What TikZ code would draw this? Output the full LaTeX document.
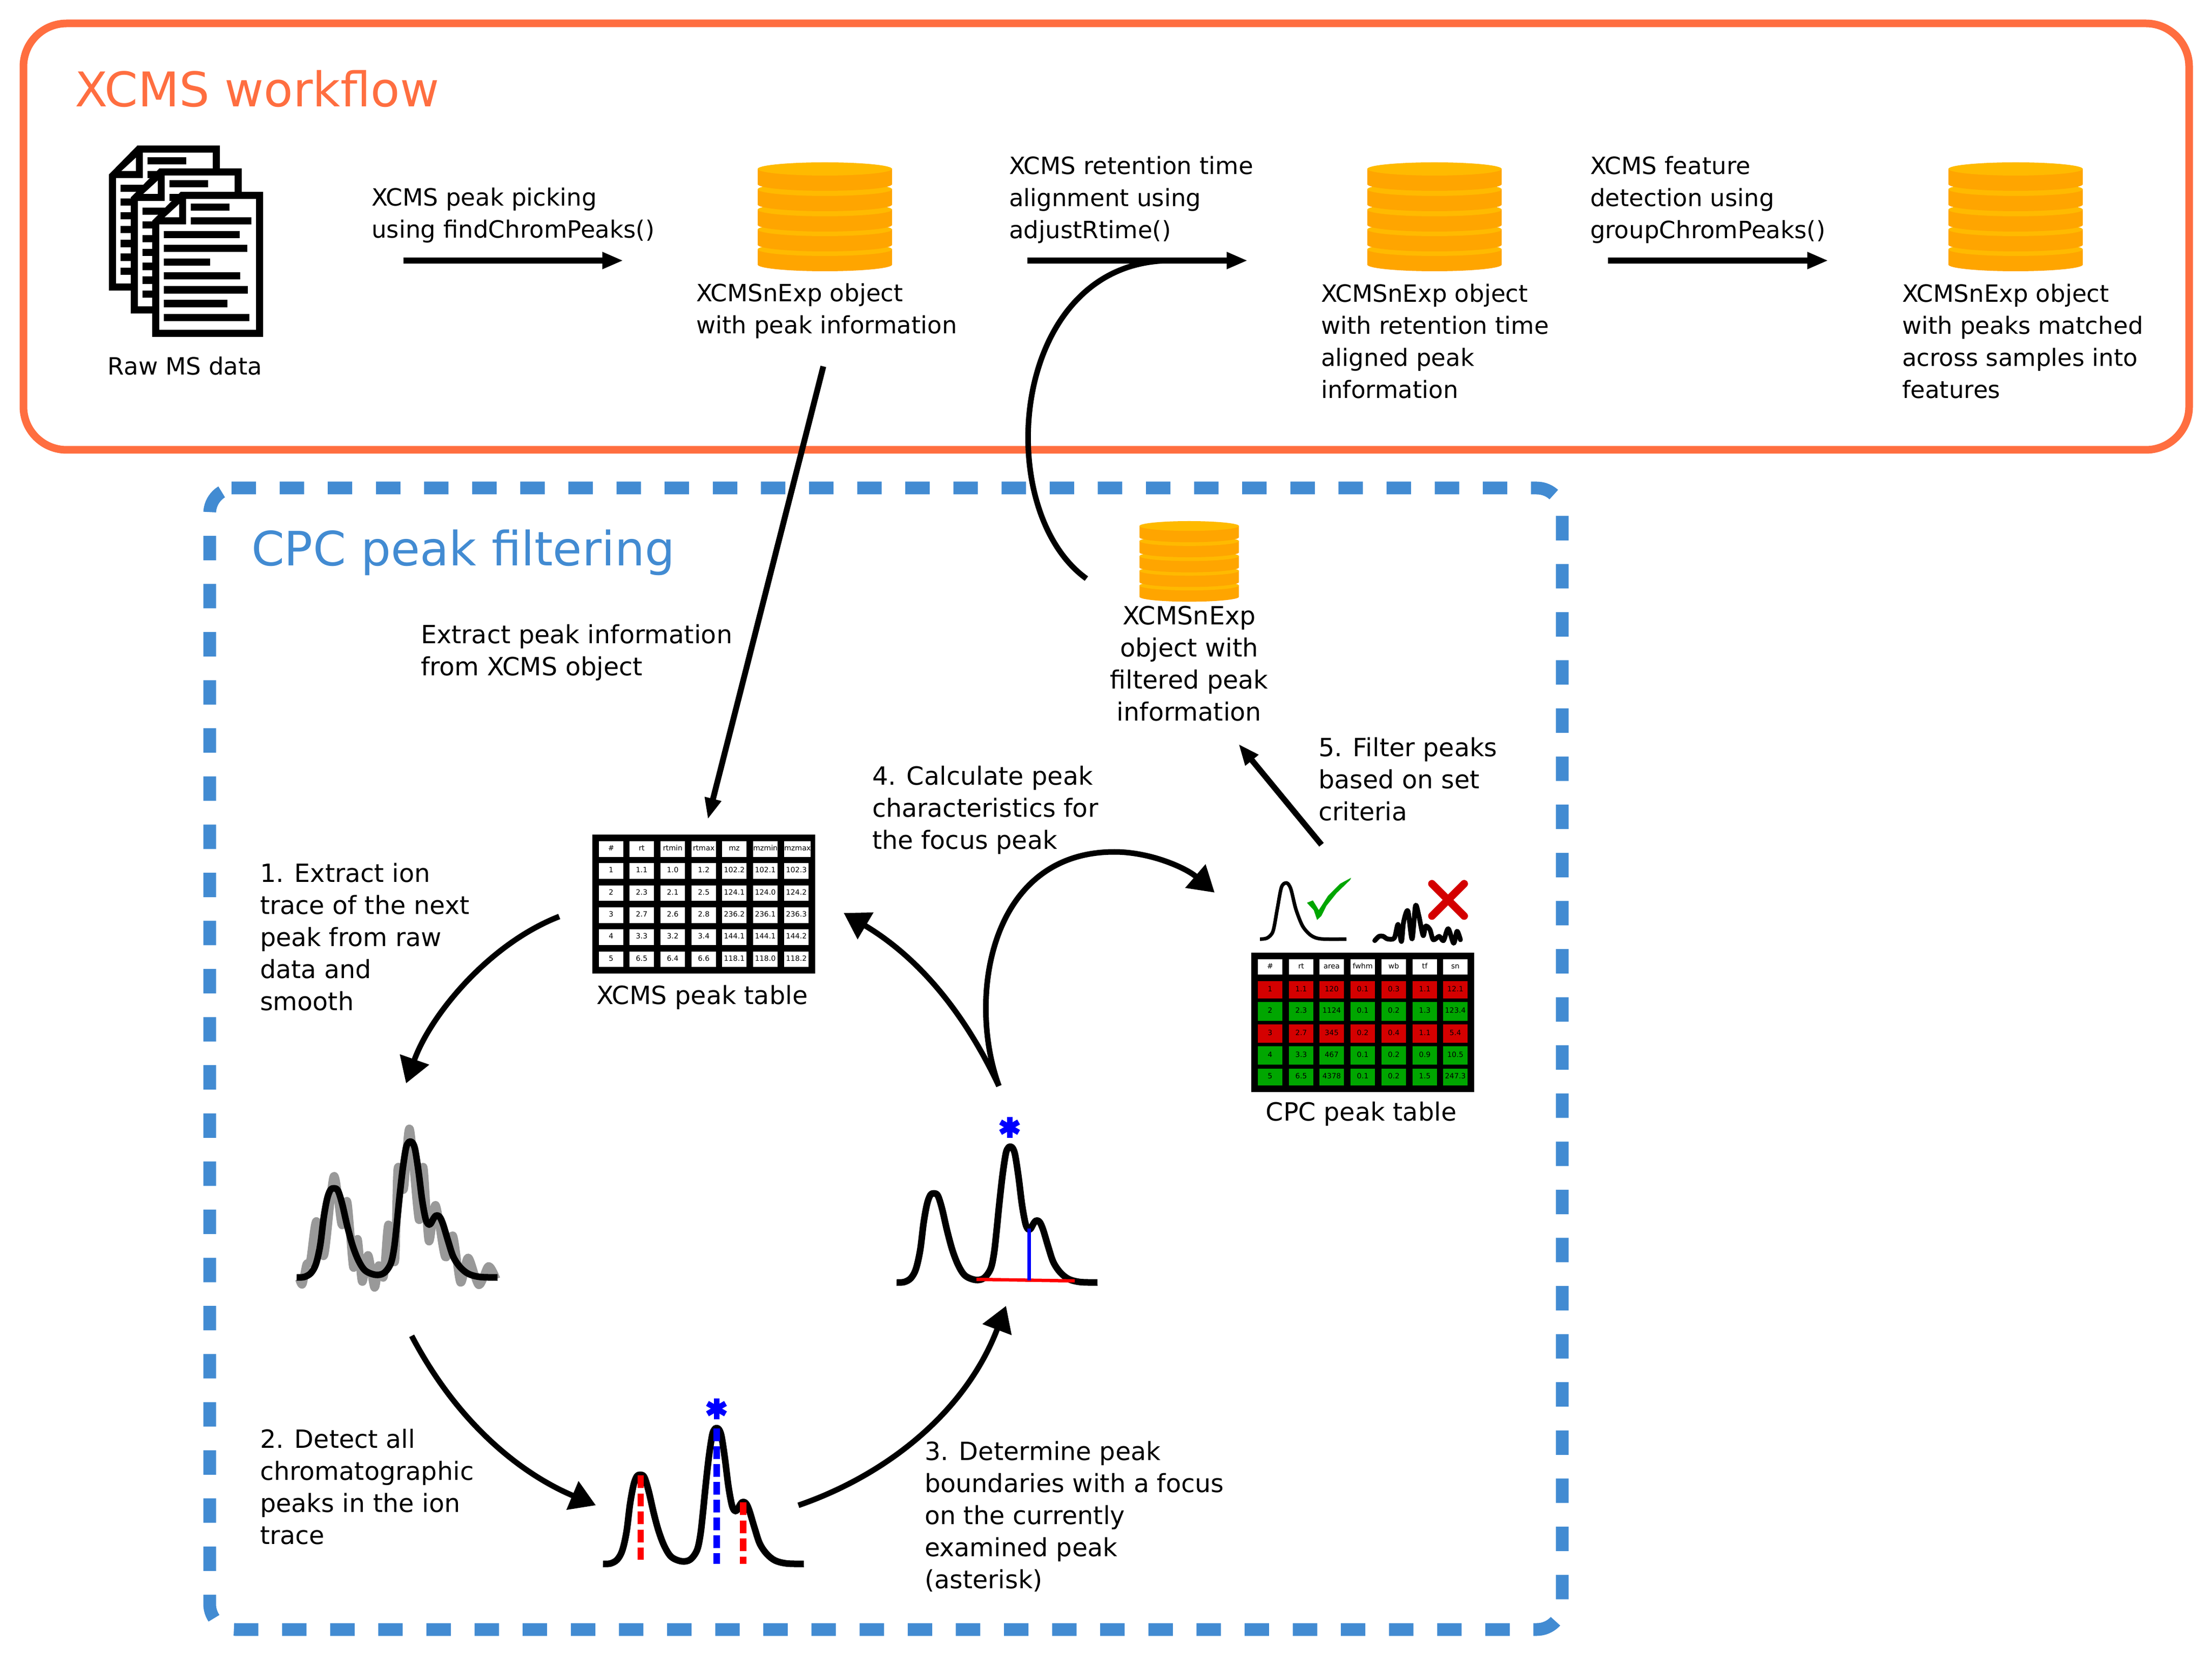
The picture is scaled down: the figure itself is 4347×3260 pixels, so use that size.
\documentclass[tikz,border=0pt]{standalone}
\usepackage{fontspec}
\setmainfont{DejaVu Sans}
\usetikzlibrary{arrows.meta,calc}
\definecolor{xcmsorange}{HTML}{FF6E40}
\definecolor{cpcblue}{HTML}{428BD2}
\definecolor{dbtop}{HTML}{FFBA00}
\definecolor{dbside}{HTML}{FFA500}
\definecolor{passgreen}{HTML}{00A600}
\definecolor{failred}{HTML}{D40000}
\tikzset{
 zoomcoords/.style 2 args={shift={(#1,#2)},x=0.0666667pt,y=-0.0666667pt},
 body/.style={anchor=north west,inner sep=0pt,align=left,font=\fontsize{9.35}{12.6}\selectfont},
 bodyc/.style={bodyb,anchor=north,align=center},
 bodyb/.style={anchor=north west,inner sep=0pt,align=left,font=\fontsize{9.85}{12.6}\selectfont},
 title/.style={anchor=north west,inner sep=0pt,font=\fontsize{18.6}{22}\selectfont},
 thinarrow/.style={line width=2.3pt,-{Triangle[length=8.3pt,width=6.2pt]}},
 thickarrow/.style={line width=2.2pt,-{Triangle[length=10pt,width=11.7pt]}},
 peak/.style={line width=2.6pt,line join=round},
 cell/.style={anchor=north west,inner sep=0pt,outer sep=0pt,minimum width=9.6pt,text=black,text height=1.3pt,text depth=0pt,font=\fontsize{2.85}{3}\selectfont},
}
\newcommand\peakcurve{plot[smooth,tension=0.55] coordinates{(66,1050)(110,1048)(150,1025)(180,970)(205,860)(225,700)(245,590)(265,535)(288,525)(310,540)(335,620)(365,750)(395,860)(430,950)(470,1010)(530,1035)(580,1025)(620,970)(640,880)(655,750)(670,600)(690,420)(710,290)(725,255)(736,250)(750,258)(765,300)(785,430)(805,590)(825,700)(840,735)(855,735)(875,700)(890,685)(910,695)(930,740)(960,840)(990,930)(1030,990)(1080,1030)(1150,1048)(1250,1050)}}
\newcommand\peaks[2]{\begin{scope}[zoomcoords={#1}{#2},shift={(-66,-1050)}]\draw[peak] \peakcurve;\end{scope}}
\newcommand\dbstack[3]{% cx, top, scale
 \begin{scope}[shift={(#1,#2)},x=#3*0.2pt,y=-#3*0.2pt]
 \foreach \d in {171,132,93,53,13}{
  \fill[dbside] (-132,\d) -- (-132,\d+30) arc[start angle=180,end angle=360,x radius=132,y radius=-13] -- (132,\d) -- cycle;
  \fill[dbtop] (0,\d) ellipse[x radius=132,y radius=13];
 }
 \end{scope}}
\newcommand\docpage[2]{%
 \begin{scope}[shift={(#1,#2)}]
 \fill[black] (525,351) -- (1011,351) -- (1011,1206) -- (357,1206) -- (357,522) -- cycle;
 \fill[white] (557,393) -- (969,393) -- (969,1164) -- (399,1164) -- (399,543) -- (557,543) -- cycle;
 \fill[white] (431,501) -- (516,423) -- (516,501) -- cycle;
 \foreach \a/\b/\c/\dd in {585/420/813/462,585/501/942/543,426/582/873/624,426/663/918/705,426/744/699/786,426/825/876/867,426/906/921/951,426/987/801/1032,426/1071/930/1113}
  \fill[black] (\a,\b) rectangle (\c,\dd);
 \end{scope}}
\begin{document}
\begin{tikzpicture}[x=0.2pt,y=-0.2pt]
\useasboundingbox (0,0) rectangle (4347,3260);
\fill[white] (0,0) rectangle (4347,3260);
% frames
\draw[xcmsorange,line width=3pt,rounded corners=17pt] (46,46) rectangle (4302,884);
\draw[cpcblue,line width=5pt,dash pattern=on 9.6pt off 9.316pt,rounded corners=10pt] (455,959) -- (3070,959) -- (3070,3202) -- (412,3202) -- (412,959) -- (462,959);
% titles
\node[title,text=xcmsorange,font=\fontsize{18.8}{22}\selectfont] (t1) at (147,137) {XCMS workflow};
\node[title,text=cpcblue] (t2) at (493,1040) {CPC peak filtering};
% raw data icon
\begin{scope}[zoomcoords={180}{260}]
 \docpage{-255}{-273}
 \docpage{-126}{-138}
 \docpage{0}{0}
\end{scope}
% cylinders
\dbstack{1621}{319}{1}
\dbstack{2819}{319}{1}
\dbstack{3961}{319}{1}
\dbstack{2337}{1024}{0.74}
% body labels
\node[body] (raw) at (211,700) {Raw MS data};
\node[body] (l1) at (729,368) {XCMS peak picking\\using findChromPeaks()};
\node[body] (l2) at (1367,556) {XCMSnExp object\\with peak information};
\node[body] (l3) at (1982,306) {XCMS retention time\\alignment using\\adjustRtime()};
\node[body] (l4) at (2595,557) {XCMSnExp object\\with retention time\\aligned peak\\information};
\node[body] (l5) at (3124,306) {XCMS feature\\detection using\\groupChromPeaks()};
\node[body] (l6) at (3737,557) {XCMSnExp object\\with peaks matched\\across samples into\\features};
\node[bodyb] (l7) at (826,1226) {Extract peak information\\from XCMS object};
\node[bodyc] (l8) at (2337,1190) {XCMSnExp\\object with\\filtered peak\\information};
\node[bodyb] (l9) at (2590,1448) {5. Filter peaks\\based on set\\criteria};
\node[bodyb] (l10) at (1713,1504) {4. Calculate peak\\characteristics for\\the focus peak};
\node[bodyb] (l11) at (510,1695) {1. Extract ion\\trace of the next\\peak from raw\\data and\\smooth};
\node[bodyc] (l12) at (1380,1935) {XCMS peak table};
\node[bodyc] (l13) at (2675,2164) {CPC peak table};
\node[bodyb] (l14) at (510,2807) {2. Detect all\\chromatographic\\peaks in the ion\\trace};
\node[bodyb] (l15) at (1816,2831) {3. Determine peak\\boundaries with a focus\\on the currently\\examined peak\\(asterisk)};
% XCMS table
\fill[black] (1164,1640) rectangle (1602,1913);
\foreach \yy/\rr/\hh/\vals in {
 1653/0/31/{\#,rt,rtmin,rtmax,mz,mzmin,mzmax},
 1696/1/31/{1,1.1,1.0,1.2,102.2,102.1,102.3},
 1740/2/30/{2,2.3,2.1,2.5,124.1,124.0,124.2},
 1783/3/31/{3,2.7,2.6,2.8,236.2,236.1,236.3},
 1826/4/31/{4,3.3,3.2,3.4,144.1,144.1,144.2},
 1870/5/30/{5,6.5,6.4,6.6,118.1,118.0,118.2}}{
 \foreach \vv [count=\i] in \vals {
  \pgfmathsetmacro\xx{{1177,1237,1298,1359,1419,1480,1541}[\i-1]}
  \node[cell,fill=white,minimum height=\hh*0.2pt] (xc\rr-\i) at (\xx,\yy) {\vv};
 }}
% CPC table
\fill[black] (2459,1872) rectangle (2897,2146);
\foreach \yy/\rr/\hh/\col/\vals in {
 1885/0/30/white/{\#,rt,area,fwhm,wb,tf,sn},
 1928/1/34/failred/{1,1.1,120,0.1,0.3,1.1,12.1},
 1969/2/37/passgreen/{2,2.3,1124,0.1,0.2,1.3,123.4},
 2013/3/36/failred/{3,2.7,345,0.2,0.4,1.1,5.4},
 2056/4/36/passgreen/{4,3.3,467,0.1,0.2,0.9,10.5},
 2100/5/33/passgreen/{5,6.5,4378,0.1,0.2,1.5,247.3}}{
 \foreach \vv [count=\i] in \vals {
  \pgfmathsetmacro\xx{{2472,2533,2593,2654,2715,2776,2836}[\i-1]}
  \node[cell,fill=\col,minimum height=\hh*0.2pt] (cp\rr-\i) at (\xx,\yy) {\vv};
 }}
% quality icons
\begin{scope}[zoomcoords={2420}{1680}]
 \draw[line width=1.4pt] plot[smooth,tension=0.5] coordinates{(168,496)(210,490)(245,450)(270,320)(295,190)(325,165)(350,200)(380,320)(420,420)(470,475)(530,495)(678,496)};
 \fill[passgreen] (445,282) -- (480,268) -- (515,325) -- (570,240) -- (640,170) -- (705,135) -- (700,147) -- (620,225) -- (560,300) -- (530,360) -- (505,383) -- (485,325) -- cycle;
 \draw[failred,line width=3pt,line cap=round] (1182,170) -- (1372,360);
 \draw[failred,line width=3pt,line cap=round] (1372,170) -- (1182,360);
 \draw[line width=1.9pt,line join=round,line cap=round] plot[smooth,tension=0.5] coordinates{(845,505)(870,480)(895,480)(920,495)(960,490)(982,410)(1002,510)(1015,395)(1040,330)(1065,495)(1085,300)(1105,360)(1130,475)(1145,420)(1170,440)(1190,500)(1225,480)(1250,505)(1278,435)(1310,520)(1330,450)(1350,500)};
\end{scope}
% raw trace
\begin{scope}[zoomcoords={560}{2180}]
 \draw[line width=3.3pt,color=black!40,line join=round] plot[smooth,tension=0.5] coordinates{(85,1000)(103,1030)(127,915)(150,890)(185,660)(230,860)(288,395)(335,680)(367,545)(403,930)(428,765)(455,1015)(490,860)(528,1050)(553,920)(582,985)(610,680)(648,895)(665,350)(700,470)(735,115)(790,650)(815,340)(848,775)(888,565)(945,870)(990,745)(1035,1020)(1080,875)(1143,1035)(1200,925)(1245,1000)};
\end{scope}
\peaks{583}{2510}
\peaks{1185}{3073}
\peaks{1762}{2520}
% detected apex markers
\draw[red,line width=2.4pt,dash pattern=on 5pt off 2.1pt] (1259,2899) -- (1259,3065);
\draw[red,line width=2.6pt,dash pattern=on 5pt off 2.1pt] (1460,2952) -- (1460,3073);
\draw[blue,line width=2.6pt,dash pattern=on 5pt off 2pt] (1408,2807) -- (1408,3073);
% asterisks
\foreach \cx/\cy in {1408/2768,1984/2215}{
 \foreach \ang in {90,30,150}{
  \draw[blue,line width=2.2pt] ($(\cx,\cy)+(\ang:20.5)$) -- ($(\cx,\cy)-(\ang:20.5)$);
 }}
% boundaries
\draw[red,line width=1.3pt] (1919,2514) -- (2112,2517);
\draw[blue,line width=1.4pt] (2022,2414) -- (2022,2516);
% connector ends
\coordinate (a1s) at (793,512); \coordinate (a1e) at (1225,512);
\coordinate (a2s) at (2019,512); \coordinate (a2e) at (2452,512);
\coordinate (a3s) at (3160,512); \coordinate (a3e) at (3593,512);
\coordinate (a4s) at (1618,720); \coordinate (a4e) at (1391,1610);
\coordinate (a5s) at (2597,1660); \coordinate (a5e) at (2434,1462);
\coordinate (b0s) at (2135,1137); \coordinate (b0e) at (2301,512);
\coordinate (b1s) at (1099,1801); \coordinate (b1e) at (798,2129);
\coordinate (b2s) at (809,2625); \coordinate (b2e) at (1171,2958);
\coordinate (b3s) at (1569,2958); \coordinate (b3e) at (1977,2566);
\coordinate (b4s) at (1963,2134); \coordinate (b4e) at (1658,1794);
\coordinate (b5m) at (2190,1674); \coordinate (b5e) at (2387,1754);
\draw[thinarrow] (a1s) -- (a1e);
\draw[thinarrow] (a2s) -- (a2e);
\draw[thinarrow] (a3s) -- (a3e);
\draw[thinarrow] (a4s) -- (a4e);
\draw[thinarrow] (a5s) -- (a5e);
\draw[line width=2.2pt] (b0s) .. controls (1945,1000) and (1985,512) .. (b0e);
\draw[thickarrow] (b1s) .. controls (960,1855) and (845,1996) .. (b1e);
\draw[thickarrow] (b2s) .. controls (901,2800) and (1026,2897) .. (b2e);
\draw[thickarrow] (b3s) .. controls (1746,2897) and (1899,2772) .. (b3e);
\draw[thickarrow] (b4s) .. controls (1885,1968) and (1788,1871) .. (b4e);
\draw[thickarrow] (b4s) .. controls (1900,1960) and (1945,1674) .. (b5m) .. controls (2260,1674) and (2330,1705) .. (b5e);
\end{tikzpicture}
\end{document}
